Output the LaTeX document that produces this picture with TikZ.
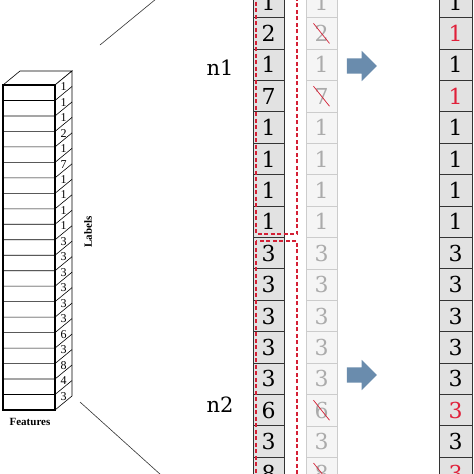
\documentclass[tikz,border=0pt]{standalone}
\usepackage{fontspec}
\usetikzlibrary{shapes.arrows}
\newfontfamily\digfont{DejaVu Serif}
\newfontfamily\timesfont{Liberation Serif}
\definecolor{dred}{HTML}{D42035}
\definecolor{rnum}{HTML}{E0203A}
\definecolor{arrc}{HTML}{6A8CAD}
\definecolor{cellg}{HTML}{E2E2E2}
\tikzset{
  lcell/.style={draw=black!80, line width=0.9pt, fill=cellg, minimum width=31pt, minimum height=31.4pt, inner sep=0pt, font=\digfont\fontsize{22}{22}\selectfont},
  mcell/.style={draw=black!20, line width=0.6pt, fill=black!4, minimum width=31pt, minimum height=31.4pt, inner sep=0pt, text=black!33, font=\digfont\fontsize{22}{22}\selectfont},
  rcell/.style={draw=black!80, line width=0.9pt, fill=cellg, minimum width=33pt, minimum height=31.4pt, inner sep=0pt, font=\digfont\fontsize{22}{22}\selectfont},
  grpbox/.style={draw=dred, dashed, dash pattern=on 4pt off 2.5pt, line width=1.3pt},
  strike/.style={draw=dred, line width=0.7pt},
  blockarrow/.style={single arrow, fill=arrc, draw=none, minimum height=30pt, minimum width=30pt, single arrow head extend=7.5pt, inner sep=0pt},
  stackline/.style={draw=black, line width=0.6pt},
  sidelab/.style={font=\timesfont\fontsize{12}{12}\selectfont, inner sep=0pt},
  nlab/.style={font=\digfont\fontsize{21}{21}\selectfont},
  zoomline/.style={draw=black!80, line width=0.6pt}
}
\begin{document}
\begin{tikzpicture}[x=1pt,y=-1pt]
\useasboundingbox (0,0) rectangle (474,474);
\clip (0,0) rectangle (474,474);
\fill[white] (0,0) rectangle (474,474);
% ---- left stack ----
\draw[stackline, fill=white] (3,85) -- (20,71) -- (72,71) -- (55,85) -- cycle;
\draw[stackline, fill=white] (55,85) -- (72,71) -- (72,396) -- (55,410) -- cycle;
\draw[stackline, line width=1.3pt, fill=white] (3,85) rectangle (55,410);
\foreach \k in {1,...,20}{
  \pgfmathsetmacro\yy{85+15.476*\k}
  \draw[stackline] (3,\yy) -- (55,\yy) -- (72,\yy-14);
}
\foreach \lab [count=\k from 0] in {1,1,1,2,1,7,1,1,1,1,3,3,3,3,3,3,6,3,8,4,3}{
  \pgfmathsetmacro\yy{85+15.476*\k+7.7-6}
  \node[sidelab] (s\k) at (63.5,\yy) {\lab};
}
\node[font=\timesfont\bfseries\fontsize{11}{11}\selectfont, rotate=90] (labels) at (88,232) {Labels};
\node[font=\timesfont\bfseries\fontsize{11}{11}\selectfont] (features) at (30,422) {Features};
% zoom lines
\coordinate (z1a) at (100,45);
\coordinate (z1b) at (156,-1);
\coordinate (z2a) at (80,402);
\coordinate (z2b) at (161,475);
\draw[zoomline] (z1a) -- (z1b);
\draw[zoomline] (z2a) -- (z2b);
% ---- columns ----
\foreach \lab/\mlab/\rlab [count=\k from 0] in {
  1/1/1, 2/2/{\textcolor{rnum}{1}}, 1/1/1, 7/7/{\textcolor{rnum}{1}}, 1/1/1, 1/1/1, 1/1/1, 1/1/1,
  3/3/3, 3/3/3, 3/3/3, 3/3/3, 3/3/3, 6/6/{\textcolor{rnum}{3}}, 3/3/3, 8/8/{\textcolor{rnum}{3}}}{
  \pgfmathsetmacro\yc{-13.7+31.4*\k+15.7}
  \node[lcell] (L\k) at (268.5,\yc) {\lab};
  \node[mcell] (M\k) at (321.5,\yc) {\mlab};
  \node[rcell] (R\k) at (455.5,\yc) {\rlab};
}
% strikes
\foreach \k in {1,3,13,15}{
  \draw[strike] ([xshift=-8pt,yshift=10pt]M\k.center) -- ([xshift=8pt,yshift=-10pt]M\k.center);
}
% dashed group boxes
\draw[grpbox] (256,-5) rectangle (297,234);
\draw[grpbox] (256,241) rectangle (297,480);
% labels
\node[nlab] (n1) at (220,68) {n1};
\node[nlab] (n2) at (220,405) {n2};
% arrows
\node[blockarrow] (a1) at (358,66) {\rule{0pt}{15pt}};
\node[blockarrow] (a2) at (358,375) {\rule{0pt}{15pt}};
\end{tikzpicture}
\end{document}
